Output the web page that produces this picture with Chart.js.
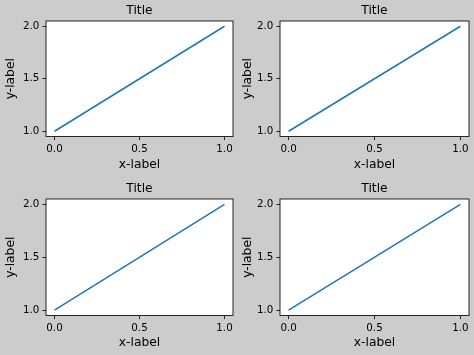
<!DOCTYPE html>
<html>
<head>
<meta charset="utf-8">
<script src="https://cdn.jsdelivr.net/npm/chart.js@4/dist/chart.umd.min.js"></script>
<style>
  html, body { margin: 0; padding: 0; background: #cccccc; }
  #fig { position: relative; width: 474px; height: 355px; background: #cccccc; overflow: hidden; }
  #fig canvas { position: absolute; }
</style>
</head>
<body>
<div id="fig"></div>
<script>
const xValues = [0, 1];
const yValues = [1, 2];
const xTicks = [0, 0.5, 1];
const yTicks = [1, 1.5, 2];
const panelTitle = 'Title';
const xLabel = 'x-label';
const yLabel = 'y-label';

// canvas box + plot area inside it (left, top, right, bottom margins) + title centre
const panels = [
  { x: 0,   y: 0,   w: 237, h: 177, left: 46, top: 21, right: 4, bottom: 40.5, titleY: 10.5 },
  { x: 237, y: 0,   w: 237, h: 177, left: 43, top: 21, right: 5, bottom: 40.5, titleY: 10.5 },
  { x: 0,   y: 177, w: 237, h: 178, left: 46, top: 22, right: 4, bottom: 39.5, titleY: 12 },
  { x: 237, y: 177, w: 237, h: 178, left: 43, top: 22, right: 5, bottom: 39.5, titleY: 12 }
];

const font = 'DejaVu Sans';
const lineColor = '#1f77b4';
const tickSize = 10.3;
const labelSize = 12.3;

// matplotlib style 5% margins
function padded(vals) {
  const lo = Math.min(...vals), hi = Math.max(...vals);
  const m = (hi - lo) * 0.05;
  return [lo - m, hi + m];
}
const [xMin, xMax] = padded(xValues);
const [yMin, yMax] = padded(yValues);

const frame = {
  id: 'frame',
  beforeDatasetsDraw(chart) {
    const { ctx, chartArea: a } = chart;
    ctx.save();
    ctx.fillStyle = '#ffffff';
    ctx.fillRect(a.left, a.top, a.right - a.left, a.bottom - a.top);
    ctx.restore();
  },
  afterDatasetsDraw(chart) {
    const { ctx, chartArea: a } = chart;
    ctx.save();
    ctx.strokeStyle = '#111111';
    ctx.lineWidth = 0.9;
    ctx.strokeRect(a.left, a.top, a.right - a.left, a.bottom - a.top);
    ctx.restore();
  }
};

const fig = document.getElementById('fig');

panels.forEach(p => {
  const cv = document.createElement('canvas');
  cv.width = p.w;
  cv.height = p.h;
  cv.style.left = p.x + 'px';
  cv.style.top = p.y + 'px';
  cv.style.width = p.w + 'px';
  cv.style.height = p.h + 'px';
  fig.appendChild(cv);

  const titleLH = labelSize * 1.2;

  new Chart(cv, {
    type: 'scatter',
    data: {
      datasets: [{
        data: xValues.map((x, i) => ({ x: x, y: yValues[i] })),
        showLine: true,
        borderColor: lineColor,
        borderWidth: 1.5,
        pointRadius: 0,
        pointHoverRadius: 0,
        fill: false
      }]
    },
    options: {
      responsive: false,
      animation: false,
      devicePixelRatio: 1,
      layout: { padding: { left: 0, top: 0, right: p.right, bottom: 0 } },
      plugins: {
        legend: { display: false },
        tooltip: { enabled: false },
        title: {
          display: true,
          text: panelTitle,
          fullSize: false,
          color: '#000000',
          font: { family: font, size: labelSize, weight: 'normal' },
          padding: { top: p.titleY - titleLH / 2, bottom: p.top - p.titleY - titleLH / 2 }
        }
      },
      scales: {
        x: {
          type: 'linear',
          min: xMin,
          max: xMax,
          afterBuildTicks: s => { s.ticks = xTicks.map(v => ({ value: v })); },
          afterFit: s => { s.height = p.bottom; },
          border: { display: false },
          grid: { drawOnChartArea: false, drawTicks: true, tickLength: 3.6, color: '#111111', lineWidth: 0.9 },
          ticks: {
            color: '#000000',
            padding: 3.2,
            maxRotation: 0,
            font: { family: font, size: tickSize },
            callback: v => Number(v).toFixed(1)
          },
          title: {
            display: true,
            text: xLabel,
            color: '#000000',
            font: { family: font, size: labelSize },
            padding: { top: 0, bottom: 12 - titleLH / 2 }
          }
        },
        y: {
          type: 'linear',
          min: yMin,
          max: yMax,
          afterBuildTicks: s => { s.ticks = yTicks.map(v => ({ value: v })); },
          afterFit: s => { s.width = p.left; },
          border: { display: false },
          grid: { drawOnChartArea: false, drawTicks: true, tickLength: 3.6, color: '#111111', lineWidth: 0.9 },
          ticks: {
            color: '#000000',
            padding: 3,
            font: { family: font, size: tickSize },
            callback: v => Number(v).toFixed(1)
          },
          title: {
            display: true,
            text: yLabel,
            color: '#000000',
            font: { family: font, size: labelSize },
            padding: { top: 11 - titleLH / 2, bottom: 0 }
          }
        }
      }
    },
    plugins: [frame]
  });
});
</script>
</body>
</html>
